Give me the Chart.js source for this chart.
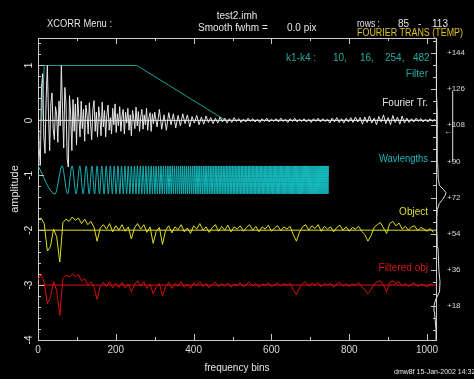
<!DOCTYPE html>
<html>
<head>
<meta charset="utf-8">
<script src="https://cdn.jsdelivr.net/npm/chart.js@4.4.1/dist/chart.umd.min.js"></script>
<style>
  html, body { margin: 0; padding: 0; background: #000; }
  #wrap { width: 474px; height: 379px; }
</style>
</head>
<body>
<div id="wrap"><canvas id="xcorr" width="474" height="379"></canvas></div>
<script>
// stacked offsets: fourier, wavelengths, object, filtered obj
const offsets = [0, -1, -2, -3];

// filter (k1..k4 = 10, 16, 254, 482)
const filterBins = [0, 10, 16, 254, 482, 1023];
const filterVals = [0, 0, 1, 1, 0, 0];

// fourier transform: every 3 bins up to 297, then every 6 bins from 300
const ftLowStep = 3;
const fourierLow = [
  0.2, -0.5, -0.82, 0.6, 0.85, -0.3, -0.6, 0.4, 1.0, 0.1,
  -0.55, 0.3, 0.5, -0.15, -0.35, 0.25, 0.1, -0.4, 0.35, -0.1,
  1.0, 0.2, -0.5, 0.6, 0.3, -0.7, -0.85, 0.45, 0.1, -0.55,
  0.38, -0.2, 0.3, -0.45, 0.42, 0.05, -0.3, 0.35, -0.15, 0.2,
  -0.38, 0.28, 0.1, -0.25, 0.32, -0.05, -0.35, 0.2, 0.36, -0.2,
  0.15, -0.3, 0.25, 0.05, -0.28, 0.33, -0.12, 0.18, -0.3, 0.1,
  0.28, -0.18, 0.05, -0.25, 0.22, -0.08, 0.3, -0.22, 0.12, -0.1,
  0.25, -0.2, 0.08, 0.2, -0.25, 0.15, -0.05, 0.22, -0.18, 0.1,
  -0.28, 0.18, 0.04, -0.15, 0.24, -0.1, 0.16, -0.2, 0.06, 0.2,
  -0.16, 0.1, -0.08, 0.22, -0.18, 0.05, 0.14, -0.2, 0.12, -0.06
];
const ftHighStart = 300;
const ftHighStep = 6;
const fourierHigh = [
  0.15, -0.12, 0.2, -0.16, 0.1, -0.18, 0.14, -0.08, 0.12, -0.14,
  0.09, -0.1, 0.12, -0.06, 0.1, -0.12, 0.07, -0.05, 0.09, -0.08,
  0.06, -0.07, 0.08, -0.04, 0.05, -0.06, 0.04, -0.05, 0.06, -0.03,
  0.04, -0.05, 0.03, -0.04, 0.05, -0.02, 0.03, -0.04, 0.02, -0.03,
  0.04, -0.02, 0.03, -0.03, 0.02, -0.04, 0.03, -0.02, 0.04, -0.03,
  0.02, -0.02, 0.03, -0.03, 0.04, -0.02, 0.02, -0.04, 0.03, -0.02,
  0.04, -0.03, 0.02, -0.02, 0.03, -0.03, 0.02, -0.04, 0.03, -0.02,
  0.04, -0.03, 0.03, -0.02, 0.02, -0.05, 0.04, -0.03, 0.05, -0.04,
  0.03, -0.05, 0.04, -0.03, 0.05, -0.04, 0.06, -0.03, 0.05, -0.07,
  0.06, -0.04, 0.08, -0.05, 0.04, -0.08, 0.07, -0.03, 0.1, -0.06,
  0.05, -0.08, 0.09, -0.04, 0.06, -0.07, 0.08, -0.05, 0.04, -0.04,
  0.03, -0.03, 0.04, -0.02, 0.03, -0.03, 0.02, -0.03, 0.03, -0.02,
  0.02
];

const waveLevels = [-0.83, -1.34];
const waveCrests = [
  0, 62.0, 87.7, 107.4, 124.0, 138.6, 151.9, 164.0, 175.4, 186.0, 196.1, 205.6, 214.8, 223.5, 232.0, 240.1,
  248.0, 255.6, 263.0, 270.2, 277.3, 284.1, 290.8, 297.3, 303.7, 310.0, 316.1, 322.2, 328.1, 333.9, 339.6,
  345.2, 350.7, 356.2, 361.5, 366.8, 372.0, 377.1, 382.2, 387.2, 392.1, 397.0, 401.8, 406.6, 411.3, 415.9,
  420.5, 425.0, 429.5, 434.0, 438.4, 442.8, 447.1, 451.4, 455.6, 459.8, 464.0, 468.1, 472.2, 476.2, 480.2,
  484.2, 488.2, 492.1, 496.0, 499.9, 503.7, 507.5, 511.3, 515.0, 518.7, 522.4, 526.1, 529.7, 533.3, 536.9,
  540.5, 544.0, 547.6, 551.1, 554.5, 558.0, 561.4, 564.8, 568.2, 571.6, 575.0, 578.3, 581.6, 584.9, 588.2,
  591.4, 594.7, 597.9, 601.1, 604.3, 607.5, 610.6, 613.8, 616.9, 620.0, 623.1, 626.2, 629.2, 632.3, 635.3,
  638.3, 641.3, 644.3, 647.3, 650.3, 653.2, 656.1, 659.1, 662.0, 664.9, 667.8, 670.6, 673.5, 676.3, 679.2,
  682.0, 684.8, 687.6, 690.4, 693.2, 695.9, 698.7, 701.4, 704.2, 706.9, 709.6, 712.3, 715.0, 717.7, 720.4,
  723.0, 725.7, 728.3, 731.0, 733.6, 736.2, 738.8, 741.4, 744.0, 746.6
];
const waveTroughs = [
  43.8, 75.9, 98.0, 116.0, 131.5, 145.4, 158.1, 169.8, 180.8, 191.1, 200.9, 210.3, 219.2, 227.8, 236.1,
  244.1, 251.8, 259.4, 266.7, 273.8, 280.7, 287.5, 294.1, 300.6, 306.9, 313.1, 319.2, 325.1, 331.0, 336.7,
  342.4, 348.0, 353.5, 358.8, 364.2, 369.4, 374.6, 379.7, 384.7, 389.7, 394.6, 399.4, 404.2, 408.9, 413.6,
  418.2, 422.8, 427.3, 431.8, 436.2, 440.6, 444.9, 449.2, 453.5, 457.7, 461.9, 466.0, 470.1, 474.2, 478.2,
  482.2, 486.2, 490.1, 494.1, 497.9, 501.8, 505.6, 509.4, 513.1, 516.9, 520.6, 524.3, 527.9, 531.5, 535.1,
  538.7, 542.3, 545.8, 549.3, 552.8, 556.3, 559.7, 563.1, 566.5, 569.9, 573.3, 576.6, 580.0, 583.3, 586.5,
  589.8, 593.1, 596.3, 599.5, 602.7, 605.9, 609.0, 612.2, 615.3, 618.4, 621.5, 624.6, 627.7, 630.7, 633.8,
  636.8, 639.8, 642.8, 645.8, 648.8, 651.7, 654.7, 657.6, 660.5, 663.4, 666.3, 669.2, 672.1, 674.9, 677.7,
  680.6, 683.4, 686.2, 689.0, 691.8, 694.6, 697.3, 700.1, 702.8, 705.5, 708.3, 711.0, 713.7, 716.4, 719.0,
  721.7, 724.4, 727.0, 729.6, 732.3, 734.9, 737.5, 740.1, 742.7, 745.3
];

// object and filtered object, one value every 8 bins
const objStep = 8;
const objectVals = [
  0.2, 0.22, 0.12, -0.38, -0.3, 0.02, -0.12, -0.58, 0.14, 0.2,
  0.16, 0.24, 0.18, 0.22, 0.12, 0.2, 0.1, 0.16, 0.05, -0.2,
  0.04, 0.1, 0.02, 0.12, -0.03, 0.08, 0.0, 0.1, -0.02, 0.06,
  -0.16, 0.04, 0.12, 0.02, 0.1, -0.04, 0.06, -0.24, -0.02, 0.05,
  -0.26, 0.0, 0.08, -0.05, 0.06, 0.01, 0.1, -0.03, 0.04, -0.06,
  0.08, 0.02, 0.12, 0.0, 0.06, -0.04, 0.05, 0.1, -0.02, 0.07,
  0.0, 0.09, -0.03, 0.06, 0.02, 0.08, -0.02, 0.05, 0.1, 0.0,
  0.07, -0.03, 0.06, 0.02, 0.09, -0.02, 0.04, 0.08, -0.01, 0.06,
  0.02, 0.07, -0.08, -0.2, -0.04, 0.06, 0.1, 0.0, 0.08, 0.03,
  0.1, -0.02, 0.07, 0.02, 0.06, -0.03, 0.05, 0.09, 0.0, 0.06,
  -0.02, 0.05, 0.02, 0.07, -0.02, -0.08, -0.2, -0.1, 0.05, 0.1,
  0.14, 0.04, -0.06, 0.12, 0.16, 0.08, 0.13, 0.02, 0.07, 0.0,
  0.06, 0.08, -0.01, 0.05, 0.02, -0.02, 0.03, -0.04
];
const filteredVals = [
  0.1, 0.2, 0.05, -0.34, -0.22, 0.06, -0.1, -0.55, 0.12, 0.18,
  0.15, 0.2, 0.16, 0.19, 0.08, 0.12, 0.0, 0.06, -0.04, -0.26,
  -0.02, 0.05, -0.03, 0.06, -0.05, 0.03, -0.04, 0.05, -0.05, 0.02,
  -0.12, 0.0, 0.08, -0.02, 0.06, -0.06, 0.02, -0.16, -0.04, 0.03,
  -0.2, -0.03, 0.05, -0.06, 0.03, -0.02, 0.06, -0.04, 0.02, -0.06,
  0.04, -0.01, 0.06, -0.03, 0.03, -0.05, 0.02, 0.05, -0.03, 0.03,
  -0.02, 0.04, -0.04, 0.02, 0.0, 0.04, -0.03, 0.02, 0.05, -0.02,
  0.03, -0.04, 0.02, 0.0, 0.04, -0.03, 0.01, 0.04, -0.02, 0.03,
  0.0, 0.03, -0.08, -0.18, -0.05, 0.03, 0.06, -0.02, 0.04, 0.0,
  0.05, -0.03, 0.03, 0.0, 0.03, -0.04, 0.02, 0.05, -0.02, 0.03,
  -0.03, 0.02, 0.0, 0.04, -0.03, -0.08, -0.16, -0.08, 0.02, 0.06,
  0.08, 0.0, -0.12, 0.05, 0.08, 0.02, 0.06, -0.02, 0.03, -0.03,
  0.02, 0.04, -0.03, 0.02, 0.0, -0.03, 0.02, 0.0
];

// row profile drawn beside the right frame
const profileRows = [1, 6, 12, 15, 18, 21, 25, 30, 35, 40, 47, 52, 56, 62, 66, 69, 71, 73, 74.5, 76, 78, 81, 89, 97, 106, 114, 122, 130, 139, 146, 151.5];
const profileVals = [0, 0, -1, -1.5, -2, -0.5, 3.5, 4, 3, 2.5, 2, 1.2, 0.7, 0.8, 1.3, 3.3, 6.5, 9, 10, 7.5, 3.5, 2.3, 1.7, 1.5, 1.3, 1, 0.7, 0.7, 0.6, 0.3, 0];
const markerRows = [90, 125];
const markerPos = 16.7;

const FRAME = '#c8c8c8';
const FONT = '"Liberation Sans", Arial, sans-serif';

const fourierPts = fourierLow.map((v, i) => ({x: i * ftLowStep, y: v + offsets[0]}))
  .concat(fourierHigh.map((v, i) => ({x: ftHighStart + i * ftHighStep, y: v + offsets[0]})));
const filterPts = filterBins.map((b, i) => ({x: b, y: filterVals[i]}));
const wavePts = waveCrests.map(b => ({x: b, y: waveLevels[0]}))
  .concat(waveTroughs.map(b => ({x: b, y: waveLevels[1]})))
  .sort((a, b) => a.x - b.x);
const objectPts = objectVals.map((v, i) => ({x: i * objStep, y: v + offsets[2]}));
const filteredPts = filteredVals.map((v, i) => ({x: i * objStep, y: v + offsets[3]}));
const baseline = (lvl) => [{x: 0, y: lvl}, {x: 1023, y: lvl}];
const profilePts = profileRows.map((r, i) => ({x: profileVals[i], y: r}));
const markerPts = markerRows.map(r => ({x: markerPos, y: r}));

function line(data, color, extra) {
  return Object.assign({data, borderColor: color, borderWidth: 1, pointRadius: 0, tension: 0, fill: false}, extra || {});
}

// small ticks pointing into the frame
const insideTicks = {
  id: 'insideTicks',
  afterDatasetsDraw(chart) {
    const {ctx, chartArea: {left, right, top, bottom}, scales} = chart;
    ctx.save();
    ctx.strokeStyle = FRAME;
    ctx.lineWidth = 1;
    ctx.beginPath();
    scales.x.ticks.forEach(t => {
      const px = Math.round(scales.x.getPixelForValue(t.value)) + 0.5;
      const len = t.value % 200 === 0 ? 6 : 3;
      ctx.moveTo(px, bottom); ctx.lineTo(px, bottom - len);
      ctx.moveTo(px, top); ctx.lineTo(px, top + len);
    });
    scales.y.ticks.forEach(t => {
      const py = Math.round(scales.y.getPixelForValue(t.value)) + 0.5;
      const len = Math.abs(t.value - Math.round(t.value)) < 1e-6 ? 6 : 3;
      ctx.moveTo(left, py); ctx.lineTo(left + len, py);
    });
    scales.yr.ticks.forEach(t => {
      const py = Math.round(scales.yr.getPixelForValue(t.value)) + 0.5;
      const len = t.value % 18 === 0 ? 5 : 3;
      ctx.moveTo(right, py); ctx.lineTo(right - len, py);
    });
    ctx.stroke();
    ctx.restore();
  }
};

// header, series labels, rotated y labels
const texts = {
  id: 'texts',
  afterDraw(chart) {
    const {ctx, scales} = chart;
    const put = (txt, x, y, color, w, size, align) => {
      ctx.font = (size || 10) + 'px ' + FONT;
      ctx.fillStyle = color;
      ctx.textAlign = align || 'left';
      ctx.textBaseline = 'middle';
      if (w) ctx.fillText(txt, x, y, w); else ctx.fillText(txt, x, y);
    };
    ctx.save();
    const W = '#e4e4e4';
    put('test2.imh', 237, 16, W, 42, 10, 'center');
    put('XCORR Menu :', 47, 24, W, 65);
    put('Smooth fwhm =', 198, 28, W, 74);
    put('0.0 pix', 287, 28, W, 31);
    put('rows :', 357, 24, W, 23);
    put('85', 398, 24, W);
    put('-', 418, 24, W);
    put('113', 432, 24, W, 16);
    put('FOURIER TRANS (TEMP)', 357, 33, '#e2c02a', 106);

    const K = '#22aaa2';
    put('k1-k4 :', 286, 58, K, 34);
    put('10,', 333, 58, K);
    put('16,', 360, 58, K);
    put('254,', 385, 58, K);
    put('482', 413, 58, K);

    put('Filter', 428, 74, '#22a89e', 0, 10, 'right');
    put('Fourier Tr.', 428, 103, W, 48, 10, 'right');
    put('Wavlengths', 428, 159, '#1cb8c0', 49, 10, 'right');
    put('Object', 428, 212, '#dede2a', 0, 10, 'right');
    put('Filtered obj', 428, 268, '#d41818', 0, 10, 'right');

    put('frequency bins', 237, 368, W, 0, 10, 'center');
    put('dmw8f 15-Jan-2002 14:32', 394, 372, W, 0, 7);

    // arrow next to the row range
    put('\u2190', scales.xp.getPixelForValue(12), scales.yr.getPixelForValue(105), W, 0, 8, 'center');

    // y tick labels and y title, rotated
    const rot = (txt, x, y, size) => {
      ctx.save();
      ctx.translate(x, y);
      ctx.rotate(-Math.PI / 2);
      put(txt, 0, 0, W, 0, size, 'center');
      ctx.restore();
    };
    scales.y.ticks.forEach(t => {
      if (Math.abs(t.value - Math.round(t.value)) < 1e-6) {
        rot(String(Math.round(t.value)), 29, scales.y.getPixelForValue(t.value), 10);
      }
    });
    rot('amplitude', 15, 189, 11);
    ctx.restore();
  }
};

new Chart(document.getElementById('xcorr'), {
  type: 'line',
  data: {
    datasets: [
      line(fourierPts, '#e6e6e6'),
      line(baseline(offsets[0]), '#e6e6e6'),
      line(filterPts, '#20a096'),
      line(wavePts, '#16bcc0', {cubicInterpolationMode: 'monotone'}),
      line(objectPts, '#e0e020'),
      line(baseline(offsets[2]), '#e0e020'),
      line(filteredPts, '#d81010'),
      line(baseline(offsets[3]), '#d81010'),
      line(profilePts, '#e0e0e0', {xAxisID: 'xp', yAxisID: 'yr', clip: false}),
      line(markerPts, '#e0e0e0', {xAxisID: 'xp', yAxisID: 'yr', clip: false})
    ]
  },
  options: {
    responsive: false,
    animation: false,
    events: [],
    plugins: {legend: {display: false}, tooltip: {enabled: false}},
    scales: {
      x: {
        type: 'linear', position: 'bottom', min: 0, max: 1023,
        grid: {drawOnChartArea: false, drawTicks: false, color: FRAME},
        border: {color: FRAME},
        ticks: {
          stepSize: 100, includeBounds: false, autoSkip: false, maxRotation: 0,
          color: '#d8d8d8', font: {family: FONT, size: 10}, padding: 4,
          callback: v => (v % 200 === 0 ? String(v) : '')
        },
        afterFit: s => { s.height = 39; }
      },
      xt: {
        type: 'linear', position: 'top', min: 0, max: 1023,
        grid: {drawOnChartArea: false, drawTicks: false, color: FRAME},
        border: {color: FRAME},
        ticks: {display: false, stepSize: 100},
        afterFit: s => { s.height = 38; }
      },
      y: {
        type: 'linear', position: 'left', min: -4, max: 1.5,
        grid: {drawOnChartArea: false, drawTicks: false, color: FRAME},
        border: {color: FRAME},
        ticks: {display: false, stepSize: 0.2, includeBounds: false},
        afterFit: s => { s.width = 38; }
      },
      yr: {
        type: 'linear', position: 'right', min: 1, max: 151.5,
        grid: {drawOnChartArea: false, drawTicks: false, color: FRAME},
        border: {color: FRAME},
        ticks: {
          stepSize: 6, includeBounds: false, autoSkip: false, padding: 11,
          color: '#d8d8d8', font: {family: FONT, size: 8},
          callback: v => (v % 18 === 0 ? '+' + v : '')
        },
        afterFit: s => { s.width = 38; }
      },
      xp: {type: 'linear', display: false, min: -398, max: 0}
    }
  },
  plugins: [insideTicks, texts]
});
</script>
</body>
</html>
